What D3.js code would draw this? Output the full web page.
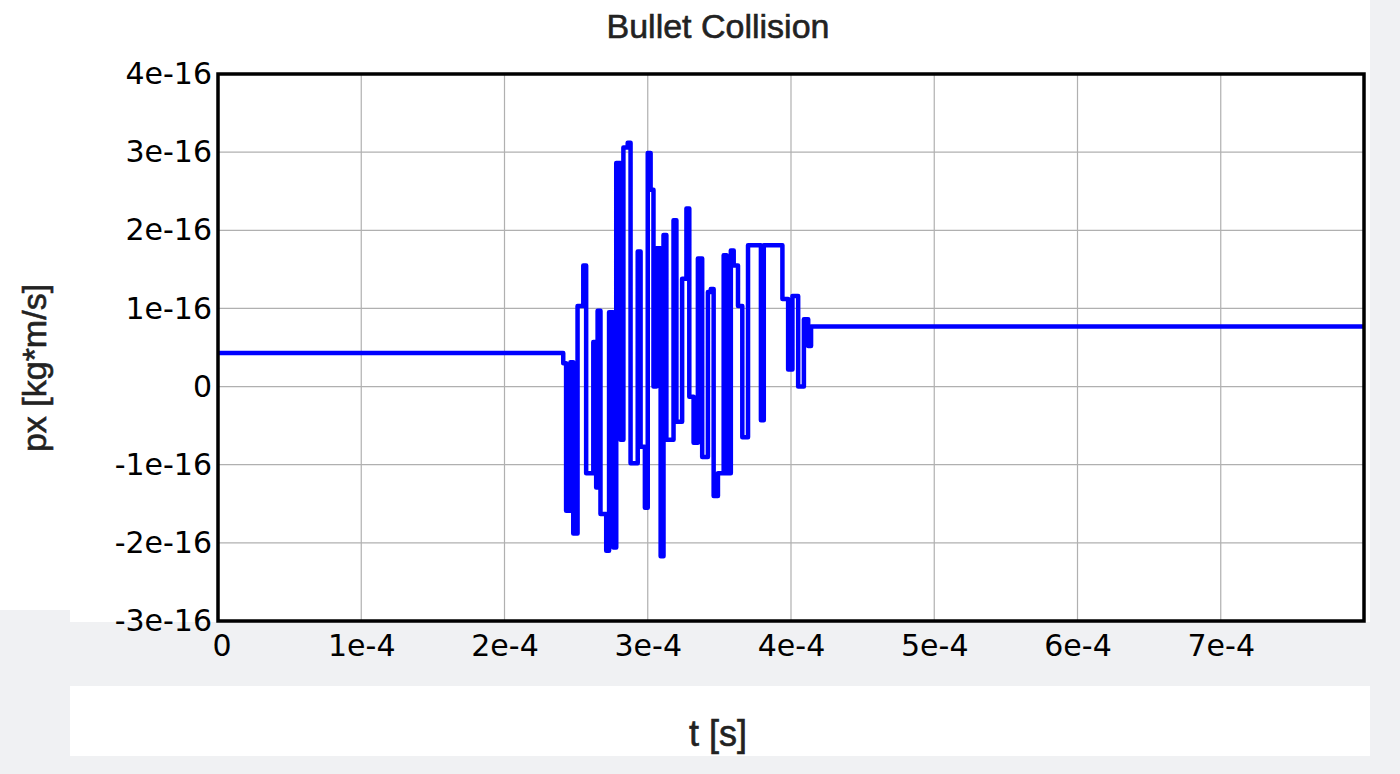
<!DOCTYPE html>
<html>
<head>
<script src="https://cdn.jsdelivr.net/npm/d3@7/dist/d3.min.js"></script>
<style>
  body { margin:0; background:#f0f1f3; }
</style>
</head>
<body>
<svg id="svg" width="1400" height="774"></svg>
<script>
// data in units: t [1e-4 s], px [1e-16 kg*m/s]
const times = [0, 2.38, 2.41, 2.43, 2.46, 2.48, 2.51, 2.55, 2.57, 2.62, 2.64, 2.65, 2.67, 2.71, 2.73, 2.76, 2.78, 2.81, 2.83, 2.86, 2.88,
  2.93, 2.95, 2.98, 3.00, 3.02, 3.04, 3.06, 3.09, 3.11, 3.13, 3.18, 3.20, 3.24, 3.27, 3.29, 3.32, 3.35, 3.38, 3.42, 3.44,
  3.46, 3.49, 3.53, 3.55, 3.58, 3.60, 3.63, 3.66, 3.70, 3.77, 3.79, 3.81, 3.93, 3.94, 3.98, 4.01, 4.05, 4.09, 4.12, 4.14, 8.0];
const pxValues = [0.43, 0.43, 0.30, -1.59, 0.31, -1.88, 1.03, 1.55, -1.11, 0.57, -1.29, 0.97, -1.63, -2.10, 0.95, -2.06, 2.86, -0.68, 3.06, 3.12, -0.98,
  1.73, -0.77, -1.55, 2.99, 2.52, 0, 1.77, -2.17, 1.94, -0.68, 2.13, -0.45, 1.38, 2.28, -0.13, -0.72, 1.64, -0.9, 1.21, 1.25,
  -1.40, -1.11, 1.68, -1.11, 1.74, 1.55, 1.03, -0.65, 1.81, 1.81, -0.43, 1.81, 1.81, 1.12, 0.22, 1.16, 0, 0.86, 0.52, 0.77, 0.77];
const xTicks = [0, 1, 2, 3, 4, 5, 6, 7];
const xTickLabels = ["0", "1e-4", "2e-4", "3e-4", "4e-4", "5e-4", "6e-4", "7e-4"];
const yTicks = [-3, -2, -1, 0, 1, 2, 3, 4];
const yTickLabels = ["-3e-16", "-2e-16", "-1e-16", "0", "1e-16", "2e-16", "3e-16", "4e-16"];

const svg = d3.select('#svg');
const plot = {left: 218, right: 1364, top: 74, bottom: 621};

// background panels
svg.append('rect').attr('x', 0).attr('y', 0).attr('width', 1370).attr('height', 610).attr('fill', '#fff');
svg.append('rect').attr('x', 70).attr('y', 0).attr('width', 1300).attr('height', 622).attr('fill', '#fff');
svg.append('rect').attr('x', 70).attr('y', 686).attr('width', 1300).attr('height', 70).attr('fill', '#fff');

const x = d3.scaleLinear().domain([0, 8]).range([plot.left, plot.right]);
const y = d3.scaleLinear().domain([-3, 4]).range([plot.bottom, plot.top]);

// grid
svg.append('g').selectAll('line').data(xTicks.slice(1)).join('line')
  .attr('x1', d => x(d)).attr('x2', d => x(d)).attr('y1', plot.top).attr('y2', plot.bottom)
  .attr('stroke', '#b0b0b0').attr('stroke-width', 1.2);
svg.append('g').selectAll('line').data(yTicks.slice(1, -1)).join('line')
  .attr('x1', plot.left).attr('x2', plot.right).attr('y1', d => y(d)).attr('y2', d => y(d))
  .attr('stroke', '#b0b0b0').attr('stroke-width', 1.2);

// series
const line = d3.line().x((d, i) => x(times[i])).y(d => y(d)).curve(d3.curveStepAfter);
svg.append('path').datum(pxValues).attr('d', line)
  .attr('fill', 'none').attr('stroke', '#0000ff').attr('stroke-width', 4.5).attr('stroke-linejoin', 'round');

// frame
svg.append('rect').attr('x', plot.left).attr('y', plot.top)
  .attr('width', plot.right - plot.left).attr('height', plot.bottom - plot.top)
  .attr('fill', 'none').attr('stroke', '#000').attr('stroke-width', 3.5);

// axes labels
const xAxis = d3.axisBottom(x).tickValues(xTicks).tickFormat((d, i) => xTickLabels[i]).tickSize(0).tickPadding(14);
const gx = svg.append('g').attr('transform', `translate(0,${plot.bottom})`).call(xAxis);
gx.select('.domain').remove();
gx.selectAll('text').attr('font-family', 'DejaVu Sans').attr('font-size', 30).attr('fill', '#000')
  .attr('text-anchor', (d, i) => i === 0 ? 'start' : 'middle').attr('dx', (d, i) => i === 0 ? -6 : 0);

const yAxis = d3.axisLeft(y).tickValues(yTicks).tickFormat((d, i) => yTickLabels[i]).tickSize(0).tickPadding(6);
const gy = svg.append('g').attr('transform', `translate(${plot.left},0)`).call(yAxis);
gy.select('.domain').remove();
gy.selectAll('text').attr('font-family', 'DejaVu Sans').attr('font-size', 30).attr('fill', '#000');

svg.append('text').attr('x', 718).attr('y', 38).attr('text-anchor', 'middle')
  .attr('font-family', 'Liberation Sans').attr('font-size', 34).attr('fill', '#222')
  .attr('stroke', '#222').attr('stroke-width', 0.6).text('Bullet Collision');
svg.append('text').attr('x', 718).attr('y', 746).attr('text-anchor', 'middle')
  .attr('font-family', 'Liberation Sans').attr('font-size', 36).attr('fill', '#222')
  .attr('stroke', '#222').attr('stroke-width', 0.6).text('t [s]');
svg.append('text').attr('transform', 'translate(46,368) rotate(-90)').attr('text-anchor', 'middle')
  .attr('font-family', 'Liberation Sans').attr('font-size', 34).attr('fill', '#222')
  .attr('stroke', '#222').attr('stroke-width', 0.6).text('px [kg*m/s]');
</script>
</body>
</html>
